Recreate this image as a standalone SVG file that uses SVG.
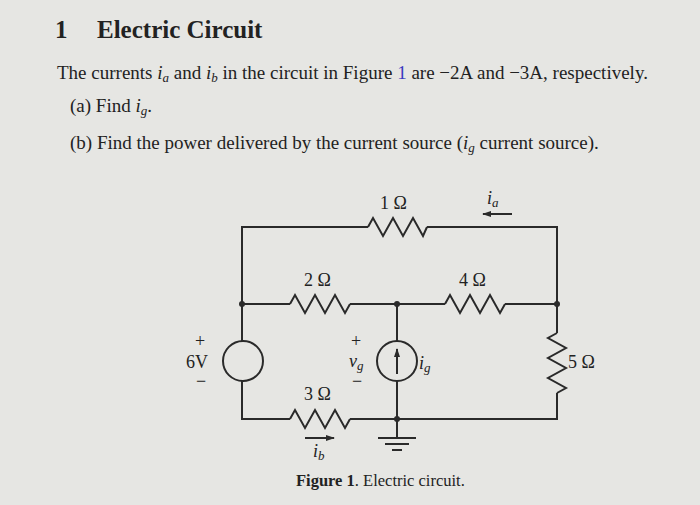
<svg xmlns="http://www.w3.org/2000/svg" width="700" height="505" viewBox="0 0 700 505">
<style>
text{font-family:"Liberation Serif","Times New Roman","DejaVu Serif",serif;fill:#222}
.w{fill:none;stroke:#2a2a2a;stroke-width:2;stroke-linejoin:miter}
.b{font-size:19px}
.c{font-size:18px}
.i{font-style:italic}
</style>
<defs><marker id="ah" markerUnits="userSpaceOnUse" markerWidth="9" markerHeight="6" refX="8" refY="3" orient="auto"><path d="M0,0 L9,3 L0,6z" fill="#2a2a2a"/></marker></defs>
<rect width="700" height="505" fill="#e6e6e3"/>
<text x="55" y="38" font-size="25" font-weight="bold">1</text>
<text x="97" y="38" font-size="25" font-weight="bold">Electric Circuit</text>
<text class="b" x="57" y="79">The currents <tspan class="i">i</tspan><tspan font-size="13" class="i" dy="3">a</tspan><tspan dy="-3"> and </tspan><tspan class="i">i</tspan><tspan font-size="13" class="i" dy="3">b</tspan><tspan dy="-3"> in the circuit in Figure </tspan><tspan fill="#3a3ac0">1</tspan> are −2A and −3A, respectively.</text>
<text class="b" x="70" y="112">(a) Find <tspan class="i">i</tspan><tspan font-size="13" class="i" dy="3">g</tspan><tspan dy="-3">.</tspan></text>
<text class="b" x="70" y="149">(b) Find the power delivered by the current source (<tspan class="i">i</tspan><tspan font-size="13" class="i" dy="3">g</tspan><tspan dy="-3"> current source).</tspan></text>
<g id="connectors">
<path class="w" d="M368,227 H242 V341 M242,381 V419 H290 M350,419 H557 V393 M557,333 V227 H427 M242,304 H290 M350,304 H445 M505,304 H557 M397,304 V341 M397,381 V438"/>
<path class="w" d="M378,438 H416 M385,444 H409 M392,450 H402"/>
<circle cx="242" cy="304" r="3" fill="#2a2a2a"/><circle cx="397" cy="304" r="3" fill="#2a2a2a"/><circle cx="557" cy="304" r="3" fill="#2a2a2a"/><circle cx="397" cy="419" r="3" fill="#2a2a2a"/>
<path class="w" stroke-width="1.3" d="M512,214 H483" marker-end="url(#ah)"/>
<path class="w" stroke-width="1.3" d="M305,438 H334" marker-end="url(#ah)"/>
</g>
<g id="R1"><path class="w" d="M368,227 l5,-9 l10,18 l10,-18 l10,18 l10,-18 l10,18 l4,-9"/><text class="c" x="380" y="209">1 Ω</text></g>
<g id="R2"><path class="w" d="M290,304 l5,-9 l10,18 l10,-18 l10,18 l10,-18 l10,18 l5,-9"/><text class="c" x="304" y="286">2 Ω</text></g>
<g id="R4"><path class="w" d="M445,304 l5,-9 l10,18 l10,-18 l10,18 l10,-18 l10,18 l5,-9"/><text class="c" x="459" y="286">4 Ω</text></g>
<g id="R3"><path class="w" d="M290,419 l5,-9 l10,18 l10,-18 l10,18 l10,-18 l10,18 l5,-9"/><text class="c" x="304" y="400">3 Ω</text></g>
<g id="R5"><path class="w" d="M557,333 l-9,5 l18,10 l-18,10 l18,10 l-18,10 l18,10 l-9,5"/><text class="c" x="568" y="368">5 Ω</text></g>
<g id="V6"><circle class="w" cx="243" cy="361" r="20"/><text class="c" x="195" y="347">+</text><text class="c" x="186" y="368">6V</text><text class="c" x="196" y="387">−</text></g>
<g id="Ig"><circle class="w" cx="397" cy="361" r="20"/><path class="w" stroke-width="1.3" d="M397,374 V349" marker-end="url(#ah)"/><text class="c i" x="419" y="369">i<tspan font-size="13" dy="3">g</tspan></text>
<text class="c" x="351" y="347">+</text><text class="c i" x="349" y="367">v<tspan font-size="13" dy="3">g</tspan></text><text class="c" x="352" y="387">−</text></g>
<text class="c i" x="487" y="204">i<tspan font-size="13" dy="3">a</tspan></text>
<text class="c i" x="313" y="457">i<tspan font-size="13" dy="3">b</tspan></text>
<text x="296" y="486" font-size="16.5"><tspan font-weight="bold">Figure 1</tspan>. Electric circuit.</text>
</svg>
